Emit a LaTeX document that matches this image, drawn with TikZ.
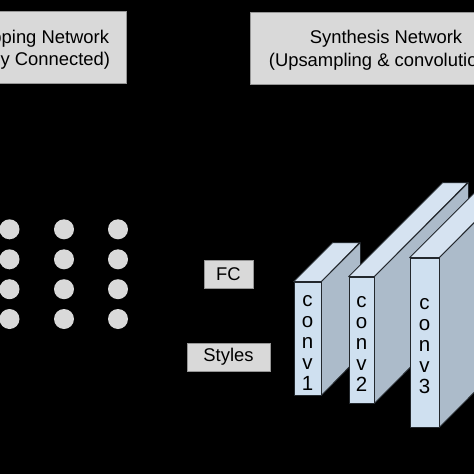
\documentclass[tikz,border=0pt]{standalone}
\usepackage{fontspec}
\setmainfont{Liberation Sans}
\definecolor{boxgray}{RGB}{217,217,217}
\definecolor{boxedge}{RGB}{150,150,150}
\definecolor{cfront}{RGB}{207,224,240}
\definecolor{ctop}{RGB}{214,227,241}
\definecolor{cside}{RGB}{172,187,202}
\definecolor{cedge}{RGB}{35,40,45}
\newcommand\myconvblock[7]{%
  \node[convfront, minimum width=#4, minimum height=#5] (#1) at (#2,#3) {#7};
  \filldraw[convtop] (#1.north west) -- ++(#6,-#6) -- ++(#4,0) -- (#1.north east) -- cycle;
  \filldraw[convside] (#1.north east) -- ++(#6,-#6) -- ++(0,#5) -- (#1.south east) -- cycle;
}
\begin{document}
\begin{tikzpicture}[x=1pt,y=-1pt,
  titlebox/.style={draw=boxedge, line width=0.6pt, fill=boxgray, align=center,
    font=\fontsize{18.4}{22.5}\selectfont, inner sep=0pt},
  smallbox/.style={draw=boxedge, line width=0.6pt, fill=boxgray,
    font=\fontsize{18.4}{22}\selectfont, inner sep=0pt},
  neuron/.style={circle, fill=boxgray, minimum size=20pt, inner sep=0pt},
  convfront/.style={draw=cedge, line width=0.8pt, fill=cfront, align=center,
    font=\fontsize{20.5}{21}\selectfont, inner sep=0pt},
  convtop/.style={draw=cedge, line width=0.8pt, fill=ctop, line join=round},
  convside/.style={draw=cedge, line width=0.8pt, fill=cside, line join=round}]
\fill[black] (0,0) rectangle (474,474);
\useasboundingbox (0,0) rectangle (474,474);
\begin{scope}
\clip (0,0) rectangle (474,474);
\node[titlebox, minimum width=177pt, minimum height=72pt] (mapnet) at (37.5,47.5) {\rule{0pt}{18pt}Mapping Network\\(Fully Connected)};
\node[titlebox, minimum width=272pt, minimum height=72pt] (synnet) at (386,48) {\rule{0pt}{18pt}Synthesis Network\\(Upsampling \& convolutions)};
\foreach \c/\x in {1/9.5,2/64,3/118}{
  \foreach \r/\y in {1/229.3,2/259.3,3/289.2,4/319}{
    \node[neuron] (n-\c-\r) at (\x,\y) {};
  }
}
\node[smallbox, minimum width=49pt, minimum height=28pt] (fc) at (228.5,274) {FC};
\node[smallbox, minimum width=83pt, minimum height=28pt] (styles) at (228.5,357) {Styles};
\myconvblock{conv1}{307.5}{338.5}{27}{113}{39}{\rule{0pt}{19pt}c\\o\\n\\v\\1}
\myconvblock{conv2}{361.5}{340}{25}{126}{94}{\rule{0pt}{19pt}c\\o\\n\\v\\2}
\myconvblock{conv3}{424.5}{342.5}{29}{169}{94}{\rule{0pt}{19pt}c\\o\\n\\v\\3}
\end{scope}
\end{tikzpicture}
\end{document}
